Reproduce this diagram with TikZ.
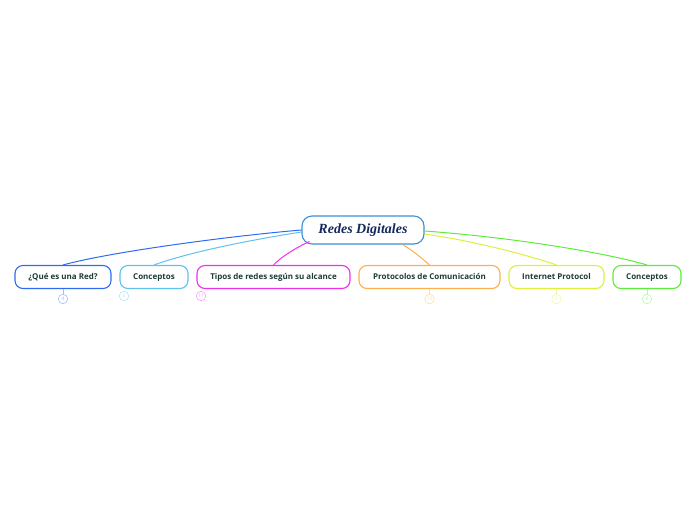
\documentclass[tikz,border=0pt]{standalone}
\usepackage{fontspec}
\setmainfont{Liberation Serif}
\setsansfont{Open Sans}
\usepackage{tikz}
\usetikzlibrary{positioning}
\usetikzlibrary{calc}
\definecolor{rootline}{HTML}{3C8FD4}
\definecolor{rootink}{HTML}{14285A}
\definecolor{topicink}{HTML}{1E3C38}
\definecolor{cblue}{HTML}{2F6BF2}
\definecolor{clight}{HTML}{5CC2F0}
\definecolor{cpink}{HTML}{F02EEE}
\definecolor{corange}{HTML}{FFAE4C}
\definecolor{cyellow}{HTML}{DDF03C}
\definecolor{cgreen}{HTML}{5EEC3A}
\newcommand{\topic}[5]{\node(#1)[topic,draw=#2,minimum width=#3] at (#4) {#5}}
\newcommand{\counter}[4]{\node(#1)[counter,draw=#2!45,text=#2!45] at (#3) {#4}}

\begin{document}
\begin{tikzpicture}[
        x=1pt, y=-1pt,
        every node/.style={inner sep=0pt},
        root/.style={rectangle,minimum height=28pt,minimum width=122pt,
                     text height=9.5pt,text depth=3pt,
                     rounded corners=10pt,line width=1.1pt,draw=rootline,fill=white,
                     font=\fontsize{14}{16}\selectfont\bfseries\itshape,text=rootink},
        topic/.style={rectangle,minimum height=23pt,
                      text height=6pt,text depth=1.8pt,
                      rounded corners=8pt,line width=1.1pt,fill=white,
                      font=\sffamily\fontsize{8}{9}\selectfont\bfseries,text=topicink},
        counter/.style={circle,minimum size=9.5pt,line width=0.6pt,
                        font=\sffamily\fontsize{5}{5}\selectfont},
        branch/.style={line width=1pt}
      ]
      \useasboundingbox (0,0) rectangle (696,520);

      % Central topic
      \node(root)[root] at (363,230) {Redes Digitales};

      % Main topics, left to right
      \topic{t1}{cblue}{96pt}{63,277}{¿Qué es una Red?};
      \topic{t2}{clight}{68pt}{154,277}{Conceptos};
      \topic{t3}{cpink}{153pt}{273.5,277}{Tipos de redes según su alcance};
      \topic{t4}{corange}{141pt}{429.5,277}{Protocolos de Comunicación};
      \topic{t5}{cyellow}{95pt}{556.5,277}{Internet Protocol};
      \topic{t6}{cgreen}{68pt}{647,277}{Conceptos};

      % Branches from the central topic
      \draw[branch,cblue] (root.west) .. controls (230,236) and (110,252) .. (t1.north);
      \draw[branch,clight] ($(root.west)+(0,2)$) .. controls (250,240) and (190,252) .. (t2.north);
      \draw[branch,cpink] ($(root.south west)+(8,-3)$) .. controls (295,248) and (280,258) .. (t3.north);
      \draw[branch,corange] ($(root.south east)+(-22,0)$) .. controls (412,250) and (424,260) .. (t4.north);
      \draw[branch,cyellow] ($(root.east)+(0,4)$) .. controls (480,242) and (530,256) .. (t5.north);
      \draw[branch,cgreen] ($(root.east)+(0,1)$) .. controls (520,238) and (610,254) .. (t6.north);

      % Counters below the topics
      \counter{n1}{cblue}{63,299}{4};
      \counter{n2}{clight}{124,296}{6};
      \counter{n3}{cpink}{201,296}{11};
      \counter{n4}{corange}{429.5,299}{10};
      \counter{n5}{cyellow}{556.5,299}{2};
      \counter{n6}{cgreen}{647,299}{8};
      \draw[line width=1pt,cblue!45] (t1.south) -- (n1.north);
      \draw[line width=1pt,corange!45] (t4.south) -- (n4.north);
      \draw[line width=1pt,cyellow!45] (t5.south) -- (n5.north);
      \draw[line width=1pt,cgreen!45] (t6.south) -- (n6.north);
    \end{tikzpicture}
\end{document}
